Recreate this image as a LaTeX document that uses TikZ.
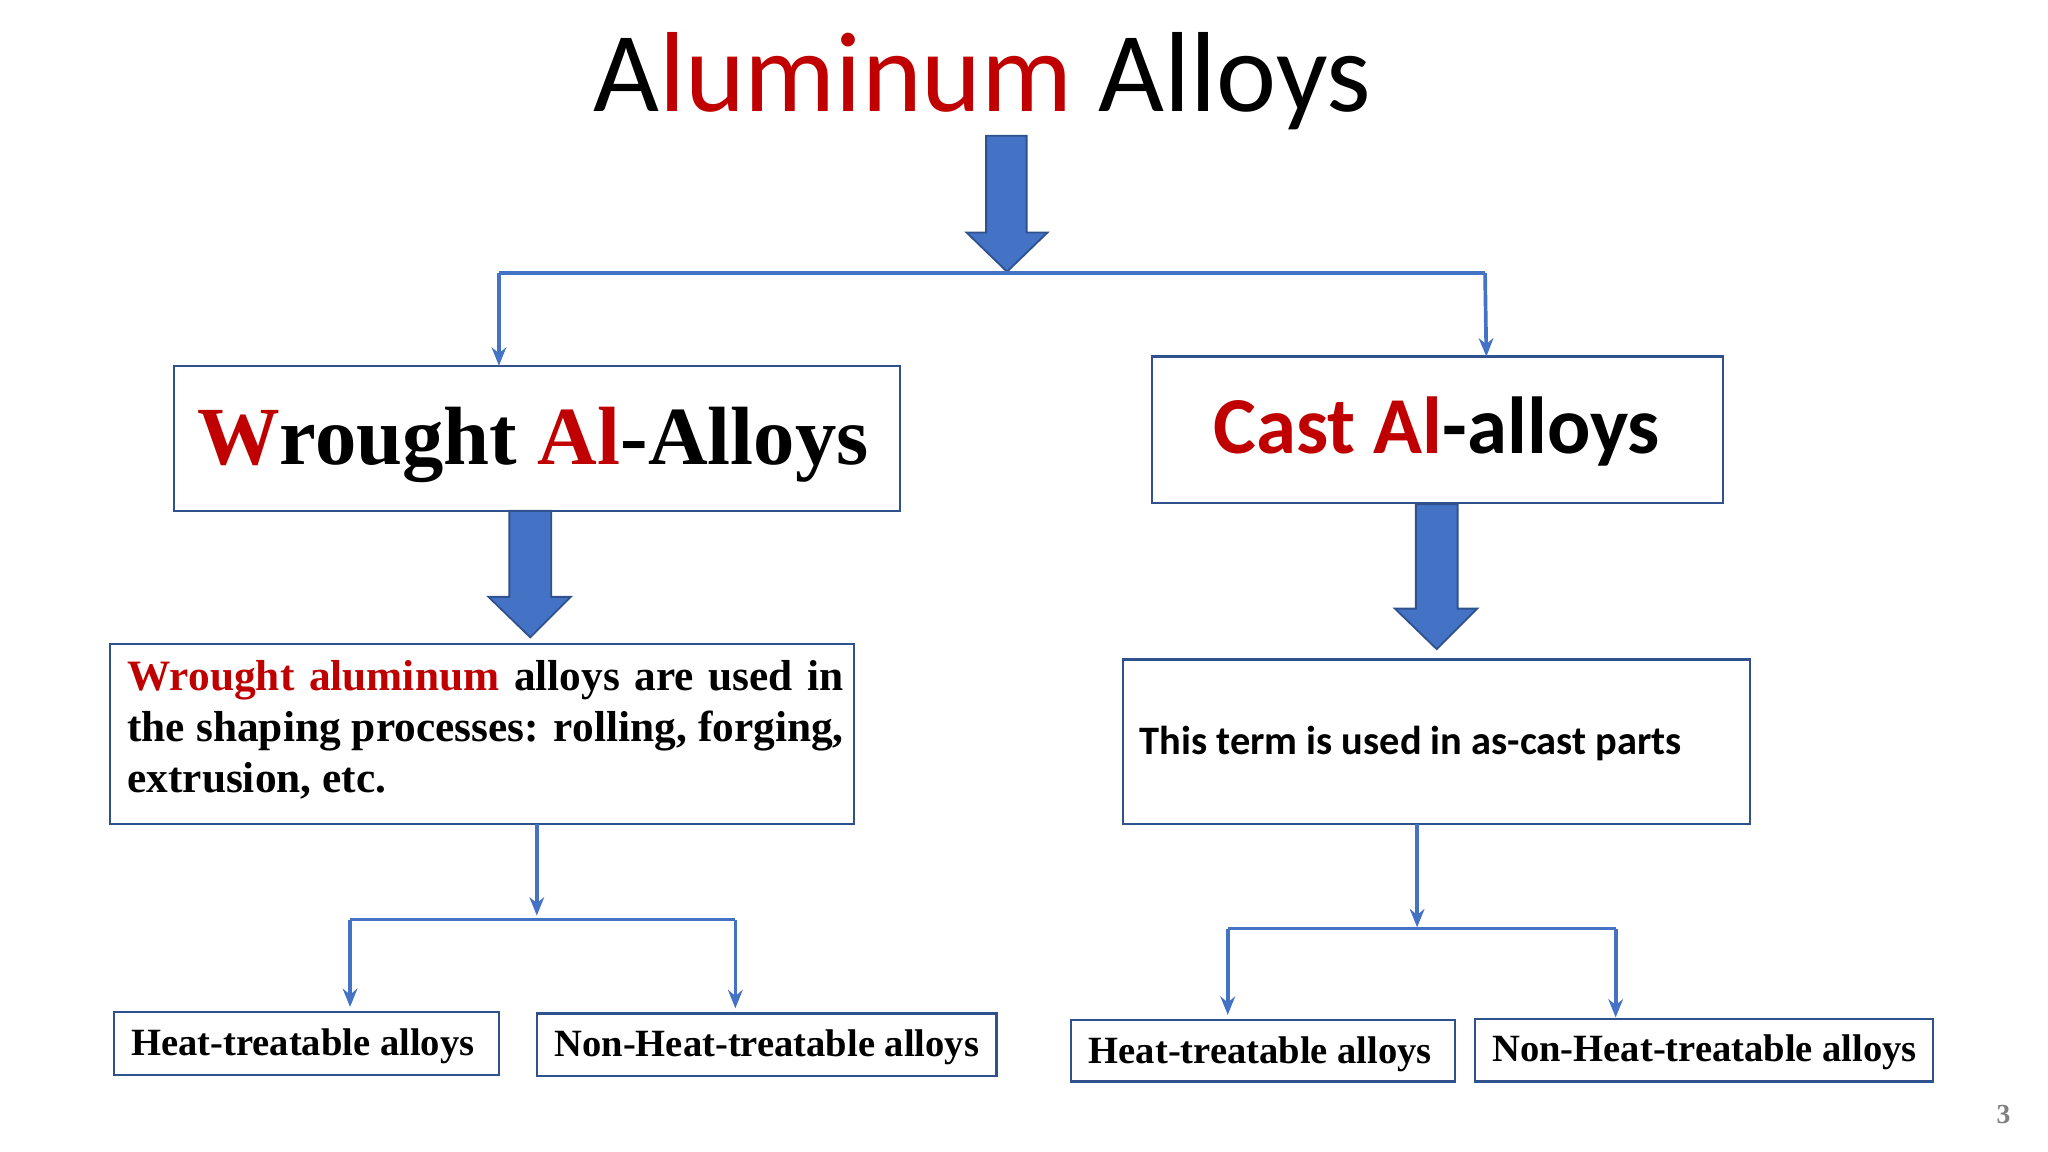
\documentclass[tikz,border=0pt]{standalone}
\usepackage{fontspec}
\setmainfont{Liberation Serif}
\newfontfamily\carl{Carlito}
\usetikzlibrary{arrows.meta}
\definecolor{myred}{RGB}{192,0,0}
\definecolor{myblue}{RGB}{68,114,196}
\definecolor{boxline}{RGB}{47,82,143}
\begin{document}
\begin{tikzpicture}[x=0.0125cm,y=-0.0125cm,
  box/.style={draw=boxline,line width=0.6pt},
  conn/.style={draw=myblue,line width=1pt,-{Stealth[length=5pt,width=4pt]}},
  bar/.style={draw=myblue,line width=1pt},
  fat/.style={fill=myblue,draw=boxline,line width=0.5pt}]
\useasboundingbox (0,0) rectangle (1568,882);
\node[font=\carl\fontsize{31}{36}\selectfont,anchor=base] (title) at (752,85) {A\textcolor{myred}{luminum} Alloys};
% fat arrows
\path[fat] (755,104) -- (786,104) -- (786,178) -- (802,178) -- (771,208) -- (740,178) -- (755,178) -- cycle;
\path[fat] (390,391) -- (422,391) -- (422,457) -- (437,457) -- (406,488) -- (374,457) -- (390,457) -- cycle;
\path[fat] (1084,386) -- (1116,386) -- (1116,466) -- (1131,466) -- (1100,497) -- (1068,466) -- (1084,466) -- cycle;
% boxes
\draw[box] (133,280) rectangle (689,391);
\node[anchor=base,font=\bfseries\fontsize{22.5}{26}\selectfont] (w) at (408,356) {\textcolor{myred}{W}rought \textcolor{myred}{Al}-Alloys};
\draw[box] (882,273) rectangle (1319,385);
\node[anchor=base,font=\carl\bfseries\fontsize{22}{26}\selectfont] (c) at (1100,347) {\textcolor{myred}{Cast Al}-alloys};
\draw[box] (84,493) rectangle (654,631);
\node[anchor=north west,text width=195pt,align=justify,inner sep=0pt,font=\bfseries\fontsize{11.8}{13.9}\selectfont] (wt) at (97,505) {\textcolor{myred}{Wrought aluminum} alloys are used in the shaping processes: rolling, forging, extrusion, etc.};
\draw[box] (860,505) rectangle (1340,631);
\node[anchor=base west,inner sep=0pt,font=\carl\bfseries\fontsize{11}{13}\selectfont] (ct) at (872,578) {This term is used in as-cast parts};
\draw[box] (87,775) rectangle (382,823);
\node[anchor=base west,inner sep=0pt,font=\bfseries\fontsize{10.5}{12}\selectfont] (h1) at (100,808) {Heat-treatable alloys};
\draw[box] (411,776) rectangle (763,824);
\node[anchor=base west,inner sep=0pt,font=\bfseries\fontsize{10.5}{12}\selectfont] (n1) at (424,809) {Non-Heat-treatable alloys};
\draw[box] (820,781) rectangle (1114,828);
\node[anchor=base west,inner sep=0pt,font=\bfseries\fontsize{10.5}{12}\selectfont] (h2) at (833,814) {Heat-treatable alloys};
\draw[box] (1129,780) rectangle (1480,828);
\node[anchor=base west,inner sep=0pt,font=\bfseries\fontsize{10.5}{12}\selectfont] (n2) at (1142,813) {Non-Heat-treatable alloys};
% connectors
\coordinate (tl) at (382,209); \coordinate (tr) at (1137,209);
\draw[bar] (tl) -- (tr);
\draw[conn] (tl) -- (382,280);
\draw[conn] (tr) -- (1138,273);
\draw[conn] (411,631) -- (411,701);
\coordinate (bl1) at (268,704); \coordinate (br1) at (563,704);
\draw[bar] (bl1) -- (br1);
\draw[conn] (bl1) -- (268,771);
\draw[conn] (br1) -- (563,772);
\draw[conn] (1085,631) -- (1085,710);
\coordinate (bl2) at (940,711); \coordinate (br2) at (1237,711);
\draw[bar] (bl2) -- (br2);
\draw[conn] (bl2) -- (940,777);
\draw[conn] (br2) -- (1237,779);
\node[anchor=base,text=gray,font=\bfseries\fontsize{7.5}{9}\selectfont] (pg) at (1534,860) {3};
\end{tikzpicture}
\end{document}
